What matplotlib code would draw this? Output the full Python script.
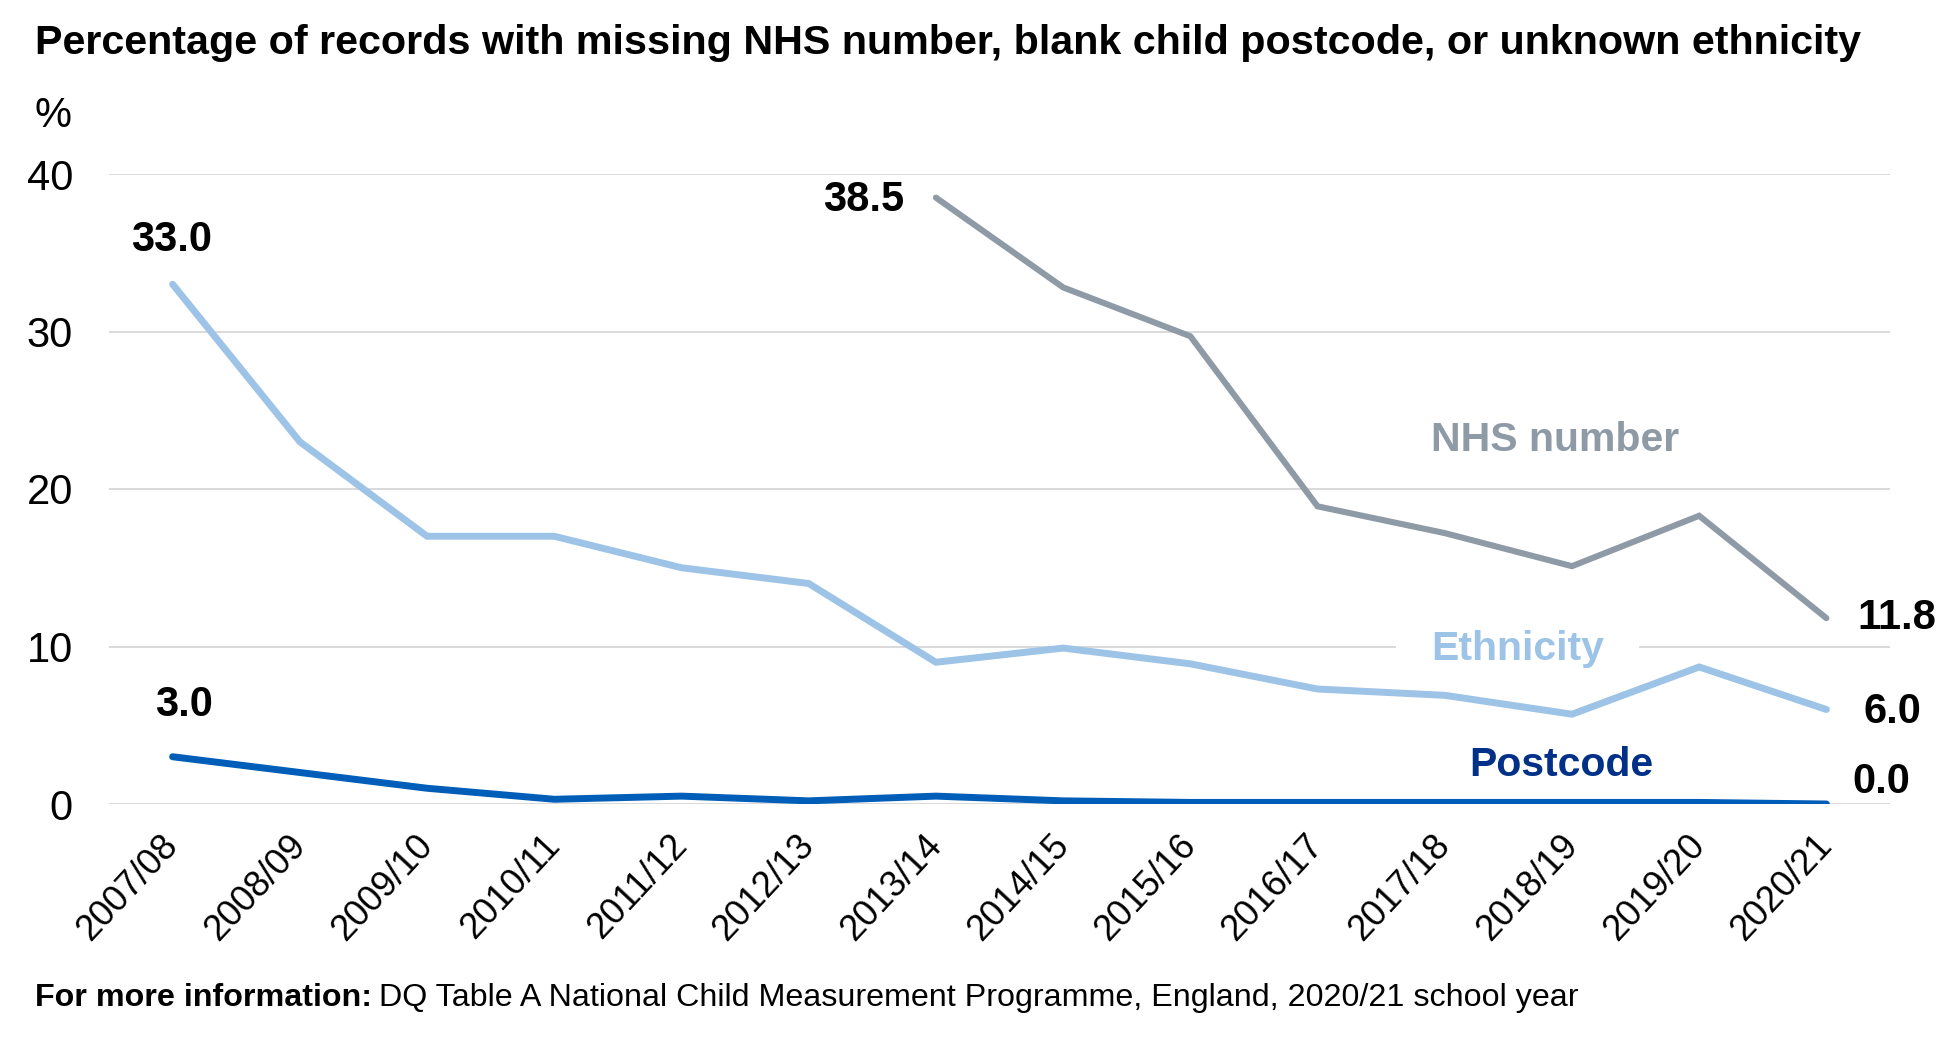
import matplotlib
matplotlib.use("Agg")
import matplotlib.pyplot as plt
import numpy as np

plt.rcParams['font.family'] = ['Liberation Sans', 'DejaVu Sans']

years = ["2007/08", "2008/09", "2009/10", "2010/11", "2011/12", "2012/13", "2013/14",
         "2014/15", "2015/16", "2016/17", "2017/18", "2018/19", "2019/20", "2020/21"]
ethnicity = [33.0, 23.0, 17.0, 17.0, 15.0, 14.0, 9.0, 9.9, 8.9, 7.3, 6.9, 5.7, 8.7, 6.0]
nhs_number = [None, None, None, None, None, None, 38.5, 32.8, 29.7, 18.9, 17.2, 15.1, 18.3, 11.8]
postcode = [3.0, 2.0, 1.0, 0.3, 0.5, 0.2, 0.5, 0.2, 0.1, 0.1, 0.1, 0.1, 0.1, 0.0]
yticks = [0, 10, 20, 30, 40]

title = "Percentage of records with missing NHS number, blank child postcode, or unknown ethnicity"

C_ETH = "#9DC3E6"
C_NHS = "#8E9BA6"
C_PC = "#005EB8"
C_PC_LBL = "#003087"

W, H = 1949, 1039
fig = plt.figure(figsize=(W / 100, H / 100), dpi=100)
ax = fig.add_axes([109 / W, 1 - 804 / H, (1890 - 109) / W, (804 - 174) / H])

x = np.arange(len(years))
nhs_arr = np.array([np.nan if v is None else v for v in nhs_number], dtype=float)

ax.plot(x, ethnicity, color=C_ETH, lw=5.0, solid_capstyle='round', solid_joinstyle='miter', zorder=3)
ax.plot(x, nhs_arr, color=C_NHS, lw=4.4, solid_capstyle='round', solid_joinstyle='miter', zorder=3)
ax.plot(x, postcode, color=C_PC, lw=5.0, solid_capstyle='round', solid_joinstyle='miter', zorder=3)

ax.set_xlim(-0.5, len(years) - 0.5)
ax.set_ylim(0, 40)
ax.set_yticks(yticks)
ax.set_yticklabels([str(v) for v in yticks], fontsize=30)
ax.set_xticks(x)
ax.set_xticklabels(years, rotation=47, ha='right', va='center', rotation_mode='anchor', fontsize=26)
ax.tick_params(axis='both', length=0)
ax.tick_params(axis='y', pad=26)
ax.tick_params(axis='x', pad=26)
for s in ax.spines.values():
    s.set_visible(False)
ax.yaxis.grid(True, color="#D9D9D9", lw=1.4, zorder=0)
ax.set_axisbelow(True)

# value labels
lbl = dict(fontsize=30, fontweight='bold', color='black')
ax.annotate(f"{ethnicity[0]:.1f}", (x[0], ethnicity[0]), xytext=(-1, 32), textcoords='offset points',
            ha='center', va='center', **lbl)
ax.annotate(f"{postcode[0]:.1f}", (x[0], postcode[0]), xytext=(8, 37), textcoords='offset points',
            ha='center', va='center', **lbl)
ax.annotate(f"{nhs_arr[6]:.1f}", (x[6], nhs_arr[6]), xytext=(-23, -2), textcoords='offset points',
            ha='right', va='center', **lbl)
ax.annotate(f"{nhs_arr[-1]:.1f}", (x[-1], nhs_arr[-1]), xytext=(22, 0), textcoords='offset points',
            ha='left', va='center', **lbl)
ax.annotate(f"{ethnicity[-1]:.1f}", (x[-1], ethnicity[-1]), xytext=(27, -2), textcoords='offset points',
            ha='left', va='center', **lbl)
ax.annotate(f"{postcode[-1]:.1f}", (x[-1], postcode[-1]), xytext=(19, 16), textcoords='offset points',
            ha='left', va='center', **lbl)

# series labels
lab = dict(fontsize=29.5, fontweight='bold', ha='center', va='center')
ax.text(10.87, 23.1, "NHS number", color=C_NHS, zorder=4, **lab)
ax.text(10.57, 9.85, "Ethnicity", color=C_ETH, zorder=2,
        bbox=dict(facecolor='white', edgecolor='none', boxstyle='square,pad=0.85'), **lab)
ax.text(10.92, 2.45, "Postcode", color=C_PC_LBL, zorder=4, **lab)

# title, unit, footer
fig.text(35 / W, 1 - 43 / H, title, fontsize=29.7, fontweight='bold', ha='left', va='center')
fig.text(35 / W, 1 - 116 / H, "%", fontsize=30, ha='left', va='center')

fig.canvas.draw()
renderer = fig.canvas.get_renderer()
t1 = fig.text(35 / W, 1 - 998 / H, "For more information:", fontsize=23.2, fontweight='bold', ha='left', va='center')
bb = t1.get_window_extent(renderer=renderer)
fig.text((bb.x1 + 7) / W, 1 - 998 / H, "DQ Table A National Child Measurement Programme, England, 2020/21 school year",
         fontsize=23.2, ha='left', va='center')

fig.savefig("out.png", dpi=100, facecolor='white')
